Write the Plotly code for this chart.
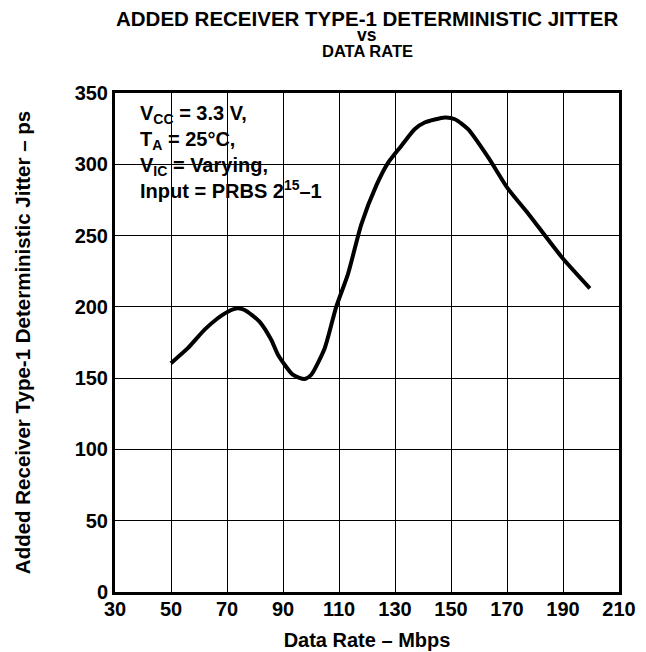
import plotly.graph_objects as go

# Data
data_rate = [50, 56, 62, 66.7, 70.3, 73.9, 76.3, 81.6, 85.8, 88.2, 93.5, 97.7,
             100.1, 104.9, 109, 113.2, 118, 123.3, 127.5, 132.3, 137, 140.6,
             147.8, 151.4, 156.1, 163.3, 170.4, 177.6, 189.5, 199.6]
jitter_ps = [160.5, 171, 184, 192, 196.6, 199, 197.8, 189.7, 176.9, 166.4, 152.4, 149.4,
             152.4, 171, 200, 223, 258, 285, 301, 313, 324.6, 329.3,
             332.8, 331.6, 324.6, 304.8, 282.7, 265.3, 235, 213]

x_ticks = [30, 50, 70, 90, 110, 130, 150, 170, 190, 210]
y_ticks = [0, 50, 100, 150, 200, 250, 300, 350]

title_lines = ["ADDED RECEIVER TYPE-1 DETERMINISTIC JITTER", "vs", "DATA RATE"]

FONT = "Liberation Sans"
BOLD = dict(family=FONT, color="black", weight="bold")

fig = go.Figure()

fig.add_trace(go.Scatter(
    x=data_rate, y=jitter_ps,
    mode="lines",
    line=dict(color="black", width=4, shape="spline", smoothing=0.6),
    showlegend=False,
))

# white box behind the conditions text (cuts the gridlines)
fig.add_shape(type="rect", xref="x", yref="y", layer="below",
              x0=33.6, x1=115.8, y0=264, y1=343,
              fillcolor="white", line=dict(width=0))

fig.add_annotation(
    xref="paper", yref="paper", x=0.046, y=0.985, xanchor="left", yanchor="top",
    align="left", showarrow=False,
    text=("V<sub>CC</sub> = 3.3 V,<br>T<sub>A</sub> = 25°C,<br>"
          "V<sub>IC</sub> = Varying,<br>Input = PRBS 2<sup>15</sup>–1"),
    font=dict(BOLD, size=20),
)

# three-line title, set tighter than plotly's <br> spacing
for txt, ypos, fsize in zip(title_lines, [1.1494, 1.1155, 1.0847], [20.5, 17.5, 16.5]):
    fig.add_annotation(
        xref="paper", yref="paper", x=0.5, y=ypos, xanchor="center", yanchor="middle",
        showarrow=False, text=txt, font=dict(BOLD, size=fsize),
    )

fig.update_layout(
    width=646, height=652,
    margin=dict(l=107, r=35, t=85, b=65),
    paper_bgcolor="white", plot_bgcolor="white",
    font=dict(family=FONT, color="black"),
)

fig.update_xaxes(
    range=[30, 210], tickvals=x_ticks, ticks="", ticklabelstandoff=-3,
    showgrid=True, gridcolor="black", gridwidth=1,
    showline=True, linecolor="black", linewidth=3, mirror=True,
    zeroline=False,
    tickfont=dict(BOLD, size=20),
    title=dict(text="Data Rate – Mbps", standoff=14, font=dict(BOLD, size=20)),
)
fig.update_yaxes(
    range=[0, 350], tickvals=y_ticks, ticks="",
    showgrid=True, gridcolor="black", gridwidth=1,
    showline=True, linecolor="black", linewidth=3, mirror=True,
    zeroline=False,
    tickfont=dict(BOLD, size=20),
    title=dict(text="Added Receiver Type-1 Deterministic Jitter – ps", standoff=39,
               font=dict(BOLD, size=20.5)),
)

fig.write_html("out.html")
